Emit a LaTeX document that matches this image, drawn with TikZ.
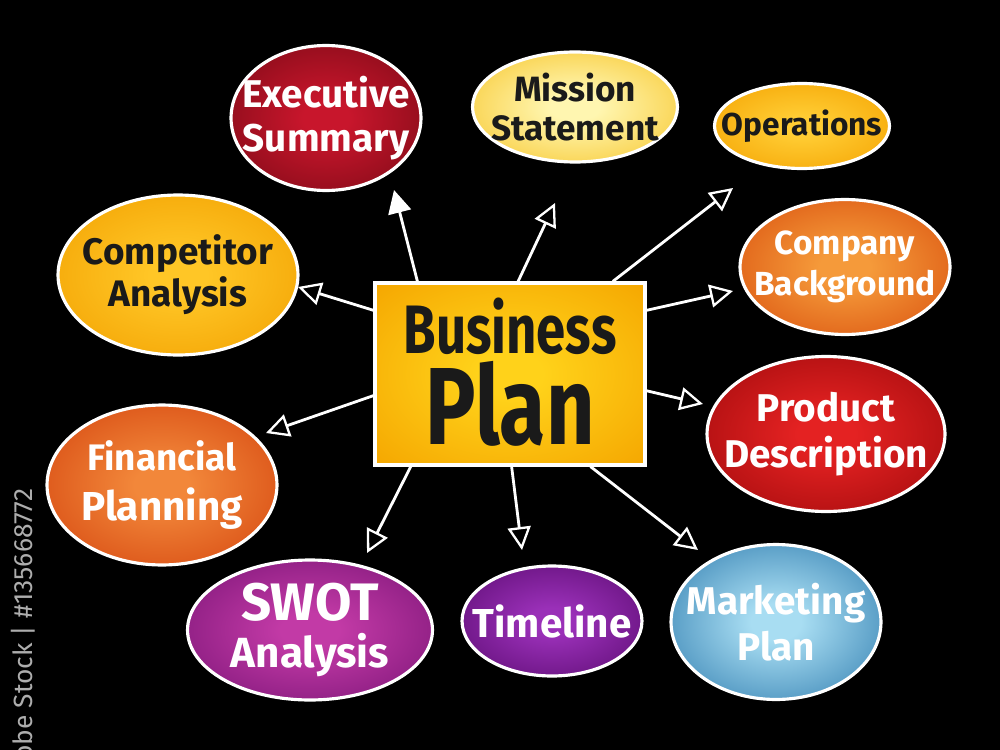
\documentclass[tikz,border=0pt]{standalone}
\usepackage{fontspec}
\setmainfont{Fira Sans}
\usetikzlibrary{shapes.geometric,arrows.meta}

% colours of the bubbles (centre / rim)
\definecolor{execIn}{HTML}{C8162C}
\definecolor{execOut}{HTML}{7C0A16}
\definecolor{missIn}{HTML}{FFF6B0}
\definecolor{missOut}{HTML}{F7C52A}
\definecolor{opsIn}{HTML}{FFCC33}
\definecolor{opsOut}{HTML}{F4A200}
\definecolor{compIn}{HTML}{F59A3A}
\definecolor{compOut}{HTML}{D9500E}
\definecolor{prodIn}{HTML}{E42222}
\definecolor{prodOut}{HTML}{A00A0C}
\definecolor{markIn}{HTML}{A8DDF2}
\definecolor{markOut}{HTML}{2E7BAE}
\definecolor{timeIn}{HTML}{9A30B8}
\definecolor{timeOut}{HTML}{5C0C72}
\definecolor{swotIn}{HTML}{C23AA6}
\definecolor{swotOut}{HTML}{7A1476}
\definecolor{finIn}{HTML}{F2873A}
\definecolor{finOut}{HTML}{D4440E}
\definecolor{rivIn}{HTML}{FFC626}
\definecolor{rivOut}{HTML}{F2A000}
\definecolor{bizIn}{HTML}{FFD21A}
\definecolor{bizOut}{HTML}{F5A600}
\definecolor{ink}{HTML}{1A1A1A}

\pgfdeclareradialshading[bubIn,bubOut]{softradial}{\pgfpoint{0bp}{0bp}}%
  {color(0bp)=(bubIn); color(6bp)=(bubIn); color(36bp)=(bubOut); color(50bp)=(bubOut)}

\begin{document}
\begin{tikzpicture}[x=0.02cm, y=-0.02cm,
                    bubble/.style = {ellipse, draw = white, line width = 1.8pt, inner sep = 0pt, shading = softradial},
                    shade/.code 2 args = {\colorlet{bubIn}{#1}\colorlet{bubOut}{#2}},
                    btext/.style = {align = center, font = \bfseries},
                    conn/.style = {draw = white, line width = 1.6pt,
                                   -{Triangle[fill = black, length = 0.46cm, width = 0.46cm, line width = 1.3pt]}}]

\useasboundingbox (0,0) rectangle (1000,750);
\fill[black] (0,0) rectangle (1000,750);
\clip (0,0) rectangle (1000,750);

% stock number
\node[rotate = 90, text = white!68!black, font = \fontsize{15}{17}\selectfont] (stock) at (23,640) {Adobe Stock | \#135668772};

% centre
\node[rectangle, draw = white, line width = 1.8pt, shade = {bizIn}{bizOut}, shading = softradial,
      minimum width = 5.4cm, minimum height = 3.64cm] (biz) at (510,374) {};
\node[btext, text = ink, yscale = 1.3, font = \bfseries\fontsize{30}{40}\selectfont] (bizT) at (510,372)
  {Business\\{\fontsize{48}{50}\selectfont Plan}};

% bubbles
\node[bubble, shade = {execIn}{execOut}, minimum width = 3.8cm, minimum height = 2.9cm] (exec) at (326,118) {};
\node[bubble, shade = {missIn}{missOut}, minimum width = 4.1cm, minimum height = 2.2cm] (miss) at (575,107) {};
\node[bubble, shade = {opsIn}{opsOut}, minimum width = 3.5cm, minimum height = 1.7cm] (ops) at (802,126) {};
\node[bubble, shade = {compIn}{compOut}, minimum width = 4.2cm, minimum height = 2.7cm] (comp) at (845,267) {};
\node[bubble, shade = {prodIn}{prodOut}, minimum width = 4.76cm, minimum height = 3.1cm] (prod) at (826,434) {};
\node[bubble, shade = {markIn}{markOut}, minimum width = 4.2cm, minimum height = 3.1cm] (mark) at (776,622) {};
\node[bubble, shade = {timeIn}{timeOut}, minimum width = 3.6cm, minimum height = 2.2cm] (time) at (552,621) {};
\node[bubble, shade = {swotIn}{swotOut}, minimum width = 4.9cm, minimum height = 2.8cm] (swot) at (310,630) {};
\node[bubble, shade = {finIn}{finOut}, minimum width = 4.6cm, minimum height = 3.2cm] (fin) at (162,485) {};
\node[bubble, shade = {rivIn}{rivOut}, minimum width = 4.8cm, minimum height = 3.2cm] (riv) at (178,275) {};

% bubble texts
\node[btext, text = white, font = \bfseries\fontsize{22}{25}\selectfont] (execT) at (exec) {Executive\\Summary};
\node[btext, text = ink, font = \bfseries\fontsize{20}{22}\selectfont] (missT) at (miss) {Mission\\Statement};
\node[btext, text = ink, font = \bfseries\fontsize{18}{20}\selectfont] (opsT) at (ops) {Operations};
\node[btext, text = white, font = \bfseries\fontsize{19}{23}\selectfont] (compT) at (comp) {Company\\Background};
\node[btext, text = white, font = \bfseries\fontsize{22}{26}\selectfont] (prodT) at (prod) {Product\\Description};
\node[btext, text = white, font = \bfseries\fontsize{22}{26}\selectfont] (markT) at (mark) {Marketing\\Plan};
\node[btext, text = white, font = \bfseries\fontsize{23}{25}\selectfont] (timeT) at (time) {Timeline};
\node[btext, text = white, font = \bfseries\fontsize{24}{27}\selectfont] (swotT) at (swot) {{\fontsize{30}{30}\selectfont SWOT}\\Analysis};
\node[btext, text = white, font = \bfseries\fontsize{21}{28}\selectfont] (finT) at (fin) {Financial\\{\fontsize{23}{26}\selectfont Planning}};
\node[btext, text = ink, font = \bfseries\fontsize{21}{24}\selectfont] (rivT) at (riv) {Competitor\\Analysis};

% arrow tips
\coordinate (tExec) at (394,190);
\coordinate (tMiss) at (555,203);
\coordinate (tOps) at (733,188);
\coordinate (tComp) at (733,291);
\coordinate (tProd) at (703,404);
\coordinate (tMark) at (698,550);
\coordinate (tTime) at (522,550);
\coordinate (tSwot) at (367,553);
\coordinate (tFin) at (266,433);
\coordinate (tRiv) at (298,287);

\draw[draw = white, line width = 1.6pt, -{Triangle[length = 0.46cm, width = 0.46cm]}] (biz.135) -- (tExec);
\draw[conn] (biz.85) -- (tMiss);
\draw[conn] (biz.42) -- (tOps);
\draw[conn] (biz.25) -- (tComp);
\draw[conn] (biz.-7) -- (tProd);
\draw[conn] (biz.-49) -- (tMark);
\draw[conn] (biz.-89) -- (tTime);
\draw[conn] (biz.223) -- (tSwot);
\draw[conn] (biz.189) -- (tFin);
\draw[conn] (biz.155) -- (tRiv);
\end{tikzpicture}
\end{document}
